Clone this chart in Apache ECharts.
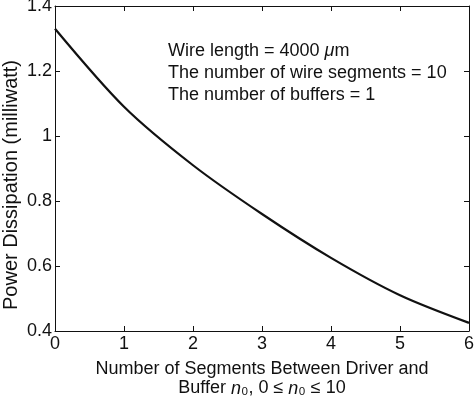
<!DOCTYPE html>
<html>
<head>
<meta charset="utf-8">
<script src="https://cdn.jsdelivr.net/npm/echarts@6/dist/echarts.min.js"></script>
<style>
html, body { margin: 0; padding: 0; background: #fff; }
#main { width: 474px; height: 399px; }
</style>
</head>
<body>
<div id="main"></div>
<script>
// segments between driver and buffer
var segments = [0, 1, 2, 3, 4, 5, 6];
// power dissipation in milliwatt
var power = [1.33, 1.09, 0.91, 0.76, 0.625, 0.51, 0.425];
var xTicks = [0, 1, 2, 3, 4, 5, 6];
var yTicks = [0.4, 0.6, 0.8, 1, 1.2, 1.4];
var noteLines = [
    'Wire length = 4000 {i|μ}m',
    'The number of wire segments = 10',
    'The number of buffers = 1'
];

var font = 'Liberation Sans, Arial, Helvetica, sans-serif';
var ink = '#111';

var myChart = echarts.init(document.getElementById('main'));

var pts = segments.map(function (s, i) { return [s, power[i]]; });

var axisBase = {
    axisLine: { show: true, onZero: false, lineStyle: { color: ink, width: 1 } },
    axisTick: { show: true, inside: true, length: 5, lineStyle: { color: ink } },
    splitLine: { show: false }
};

option = {
    backgroundColor: '#fff',
    animation: false,
    grid: { left: 55, right: 5, top: 6, bottom: 68, outerBoundsMode: 'none', containLabel: false },
    xAxis: [
        Object.assign({
            type: 'value', min: xTicks[0], max: xTicks[xTicks.length - 1], interval: 1, position: 'bottom',
            axisLabel: { color: ink, fontSize: 18, fontFamily: font, margin: 4 },
            name: 'Number of Segments Between Driver and\nBuffer {i|n}₀, 0 ≤ {i|n}₀ ≤ 10',
            nameLocation: 'middle', nameGap: 29,
            nameTextStyle: {
                color: ink, fontSize: 18, fontFamily: font, lineHeight: 19,
                verticalAlign: 'top',
                rich: { i: { fontStyle: 'italic', fontSize: 18, fontFamily: font, color: ink, lineHeight: 19 } }
            }
        }, axisBase),
        Object.assign({
            type: 'value', min: xTicks[0], max: xTicks[xTicks.length - 1], interval: 1, position: 'top',
            axisLabel: { show: false }
        }, axisBase)
    ],
    yAxis: [
        Object.assign({
            type: 'value', min: yTicks[0], max: yTicks[yTicks.length - 1], interval: 0.2, position: 'left',
            axisLabel: {
                color: ink, fontSize: 18, fontFamily: font, margin: 3,
                formatter: function (v) { return String(Math.round(v * 10) / 10); }
            }
        }, axisBase),
        Object.assign({
            type: 'value', min: yTicks[0], max: yTicks[yTicks.length - 1], interval: 0.2, position: 'right',
            axisLabel: { show: false }
        }, axisBase)
    ],
    graphic: [
        {
            type: 'text', left: 168, top: 40,
            style: {
                text: noteLines.join('\n'),
                fill: ink, fontSize: 18, fontFamily: font, lineHeight: 22,
                rich: { i: { fontStyle: 'italic', fontSize: 18, fontFamily: font, fill: ink, lineHeight: 22 } }
            }
        },
        {
            type: 'text', x: 11, y: 185, rotation: Math.PI / 2,
            style: {
                text: 'Power Dissipation (milliwatt)',
                fill: ink, fontSize: 20, fontFamily: font,
                align: 'center', verticalAlign: 'middle'
            }
        }
    ],
    series: [
        {
            type: 'line',
            data: pts,
            smooth: 0.3,
            symbol: 'none',
            lineStyle: { color: ink, width: 2.2 }
        }
    ]
};
myChart.setOption(option);
</script>
</body>
</html>
